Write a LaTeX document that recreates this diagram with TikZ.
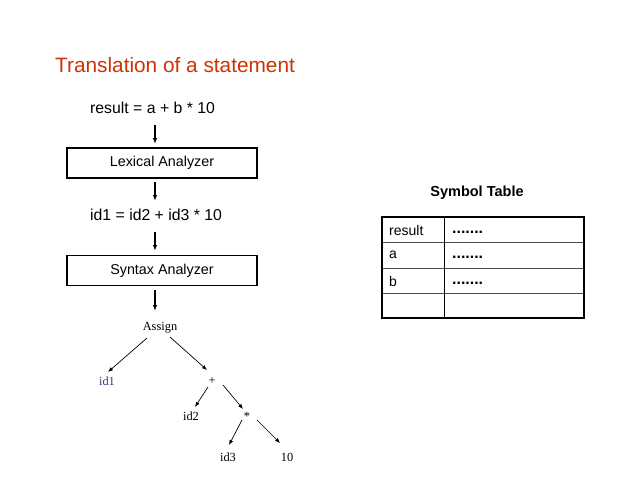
\documentclass[tikz,border=0pt]{standalone}
\usepackage{fontspec}
\setmainfont{Liberation Sans}
\newfontfamily\timesf{Liberation Serif}
\usetikzlibrary{arrows.meta}
\definecolor{titlered}{RGB}{204,51,0}
\definecolor{idblue}{RGB}{51,51,153}
\tikzset{
  stmt/.style={font=\fontsize{15.8}{18}\selectfont, inner sep=0pt},
  anbox/.style={draw, line width=1.4pt, minimum width=190pt, minimum height=30pt, inner sep=0pt, font=\fontsize{14.3}{17}\selectfont},
  flow/.style={line width=1.3pt, -{Latex[length=6pt,width=4.5pt]}},
  tnode/.style={font=\timesf\fontsize{12.4}{14}\selectfont, inner sep=0pt},
  tedge/.style={line width=0.7pt, -{Latex[length=5pt,width=4pt]}},
  cell/.style={font=\fontsize{14}{17}\selectfont, inner sep=0pt, anchor=west},
  dots/.style={cell, font=\bfseries\fontsize{15.9}{17}\selectfont},
}
\begin{document}
\begin{tikzpicture}[x=1pt,y=-1pt]
\useasboundingbox (0,0) rectangle (638,493);
\node[anchor=west, inner sep=0pt, text=titlered, font=\fontsize{20.8}{24}\selectfont] (title) at (55,65) {Translation of a statement};
\node[stmt, anchor=west] (s1) at (90,108) {result = a + b * 10};
\node[anbox] (lex) at (162,163) {Lexical Analyzer};
\node[stmt, anchor=west] (s2) at (90,215) {id1 = id2 + id3 * 10};
\node[anbox] (syn) at (162,270.5) {Syntax Analyzer};
\coordinate (a1s) at (155,125); \coordinate (a1e) at (155,144);
\coordinate (a2s) at (155,182); \coordinate (a2e) at (155,201);
\coordinate (a3s) at (155,232); \coordinate (a3e) at (155,251);
\coordinate (a4s) at (155,290); \coordinate (a4e) at (155,311);
\draw[flow] (a1s) -- (a1e);
\draw[flow] (a2s) -- (a2e);
\draw[flow] (a3s) -- (a3e);
\draw[flow] (a4s) -- (a4e);
% tree
\node[tnode] (assign) at (160,328) {Assign};
\node[tnode, text=idblue] (id1) at (107,381) {id1};
\node[tnode] (plus) at (212,381) {+};
\node[tnode] (id2) at (191,416) {id2};
\node[tnode] (star) at (247,416) {*};
\node[tnode] (id3) at (228,457) {id3};
\node[tnode] (ten) at (287,457) {10};
\draw[tedge] (147,338) -- (108,372);
\draw[tedge] (170,337) -- (207,370);
\draw[tedge] (208,387) -- (195,407);
\draw[tedge] (223,385) -- (243,409);
\draw[tedge] (242,420) -- (229,445);
\draw[tedge] (257,420) -- (280,443);
% symbol table
\node[font=\bfseries\fontsize{14.5}{17}\selectfont, inner sep=0pt] (sttitle) at (477,193) {Symbol Table};
\draw[line width=0.7pt, black!70] (382,242) -- (584,242) (382,268) -- (584,268) (382,293) -- (584,293);
\draw[line width=0.9pt] (444,217) -- (444,318);
\draw[line width=1.6pt] (382,217) rectangle (584,318);
\node[cell] (r1) at (389,230) {result};
\node[cell] (r2) at (389,255) {a};
\node[cell] (r3) at (389,281) {b};
\node[dots] (d1) at (452,232) {.......};
\node[dots] (d2) at (452,257) {.......};
\node[dots] (d3) at (452,283) {.......};
\end{tikzpicture}
\end{document}
